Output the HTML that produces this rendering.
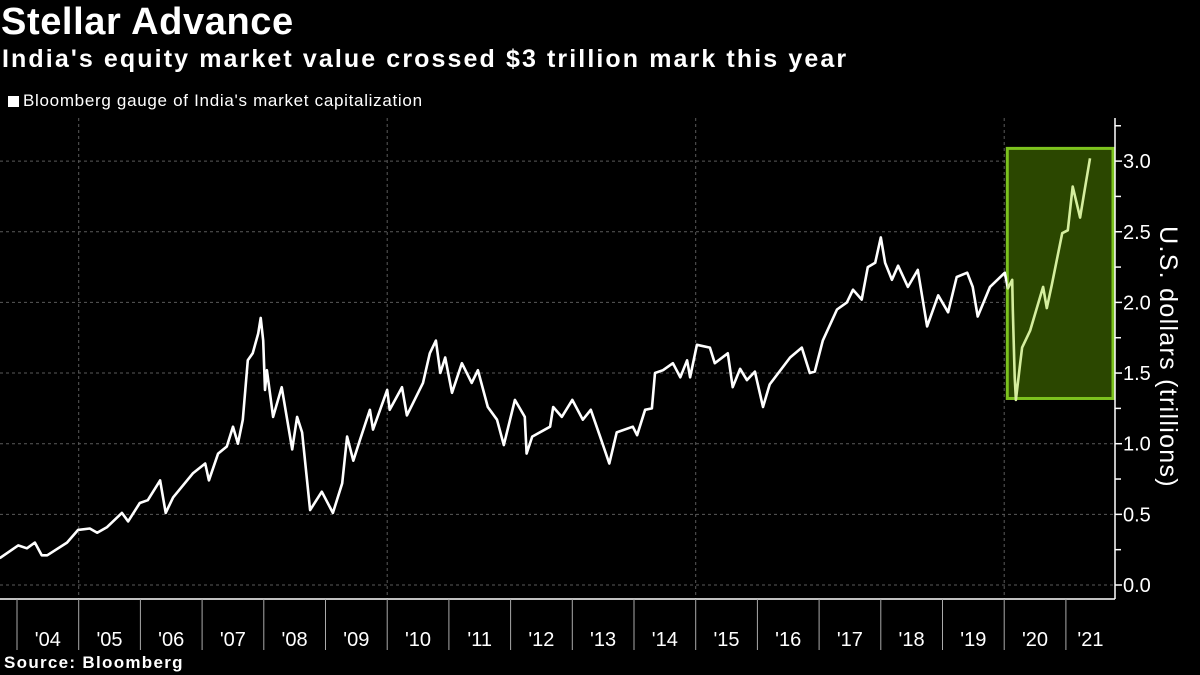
<!DOCTYPE html>
<html><head><meta charset="utf-8">
<style>
html,body{margin:0;padding:0;background:#000;width:1200px;height:675px;overflow:hidden;font-family:"Liberation Sans",sans-serif;color:#fff}
#title{position:absolute;left:1px;top:1px;font-size:38px;font-weight:bold;margin:0;letter-spacing:0.6px}
#subtitle{position:absolute;left:2px;top:45px;font-size:25px;font-weight:bold;margin:0;letter-spacing:2.1px}
#legend{position:absolute;left:8px;top:91px;font-size:17px;display:flex;align-items:center;letter-spacing:0.7px}
#legend .sw{width:11px;height:11px;background:#fff;margin-right:4px}
#source{position:absolute;left:4px;top:653px;font-size:17px;font-weight:bold;letter-spacing:1.3px}
svg{position:absolute;left:0;top:0}
</style></head><body>
<h1 id="title">Stellar Advance</h1>
<h2 id="subtitle">India's equity market value crossed $3 trillion mark this year</h2>
<div id="legend"><span class="sw"></span><span>Bloomberg gauge of India's market capitalization</span></div>
<div id="source">Source: Bloomberg</div>
<svg id="chart" width="1200" height="675"></svg>
<script>
const dates=[2003.72,2004.02,2004.16,2004.29,2004.40,2004.49,2004.81,2004.99,2005.18,2005.30,2005.46,2005.70,2005.80,2005.99,2006.12,2006.32,2006.41,2006.53,2006.85,2007.05,2007.11,2007.26,2007.40,2007.50,2007.58,2007.66,2007.74,2007.82,2007.91,2007.95,2007.99,2008.02,2008.05,2008.15,2008.29,2008.46,2008.54,2008.62,2008.75,2008.94,2009.12,2009.27,2009.35,2009.45,2009.56,2009.72,2009.77,2010.00,2010.04,2010.24,2010.32,2010.58,2010.69,2010.79,2010.86,2010.94,2011.05,2011.21,2011.37,2011.47,2011.63,2011.78,2011.89,2012.07,2012.23,2012.26,2012.35,2012.64,2012.69,2012.83,2013.00,2013.17,2013.30,2013.45,2013.60,2013.72,2013.98,2014.05,2014.18,2014.29,2014.34,2014.47,2014.63,2014.75,2014.86,2014.91,2015.02,2015.23,2015.31,2015.52,2015.60,2015.72,2015.83,2015.96,2016.09,2016.20,2016.53,2016.72,2016.85,2016.93,2017.06,2017.29,2017.45,2017.55,2017.69,2017.79,2017.91,2018.00,2018.07,2018.18,2018.28,2018.44,2018.60,2018.75,2018.93,2019.09,2019.23,2019.40,2019.49,2019.57,2019.77,2020.01,2020.06,2020.13,2020.14,2020.17,2020.19,2020.26,2020.29,2020.42,2020.63,2020.69,2020.77,2020.94,2021.03,2021.11,2021.23,2021.31,2021.39];
const values=[0.19,0.28,0.26,0.30,0.21,0.21,0.30,0.39,0.40,0.37,0.41,0.51,0.45,0.58,0.60,0.74,0.51,0.62,0.79,0.86,0.74,0.93,0.98,1.12,1.00,1.17,1.59,1.64,1.78,1.89,1.73,1.38,1.52,1.19,1.40,0.96,1.19,1.08,0.53,0.66,0.51,0.72,1.05,0.88,1.03,1.24,1.10,1.38,1.24,1.40,1.20,1.43,1.64,1.73,1.50,1.61,1.36,1.57,1.43,1.52,1.26,1.17,0.99,1.31,1.19,0.93,1.05,1.12,1.26,1.19,1.31,1.17,1.24,1.05,0.86,1.08,1.12,1.06,1.24,1.25,1.50,1.52,1.57,1.47,1.59,1.47,1.70,1.68,1.57,1.64,1.40,1.53,1.45,1.51,1.26,1.42,1.61,1.68,1.50,1.51,1.73,1.95,2.00,2.09,2.02,2.25,2.28,2.46,2.28,2.16,2.26,2.11,2.23,1.83,2.05,1.93,2.18,2.21,2.11,1.90,2.11,2.21,2.10,2.16,1.95,1.47,1.31,1.57,1.68,1.80,2.11,1.96,2.12,2.49,2.51,2.82,2.60,2.81,3.02];
const yTicks=[0,0.5,1,1.5,2,2.5,3];
const yTickLabels=["0.0","0.5","1.0","1.5","2.0","2.5","3.0"];
const years=[2004,2005,2006,2007,2008,2009,2010,2011,2012,2013,2014,2015,2016,2017,2018,2019,2020,2021];
const yearLabels=["'04","'05","'06","'07","'08","'09","'10","'11","'12","'13","'14","'15","'16","'17","'18","'19","'20","'21"];
const gridYears=[2005,2010,2015,2020];
const highlight=[2020.05,3.09,1.32];

const NS="http://www.w3.org/2000/svg";
const svg=document.getElementById('chart');
const X=t=>17+(t-2004)*61.7;
const Y=v=>585-v*141.3;
const AX=1115, TOP=118, BOT=599;
function mk(tag,attrs,parent){const e=document.createElementNS(NS,tag);for(const k in attrs)e.setAttribute(k,attrs[k]);(parent||svg).appendChild(e);return e;}

yTicks.forEach((v,i)=>{
  const g=mk('line',{x1:0,x2:AX,y1:Y(v),y2:Y(v),stroke:'#5a5a5a','stroke-width':1,'stroke-dasharray':'3,3'});
  
  
  const t=mk('text',{x:1123,y:Y(v)+7,fill:'#fff','font-size':20,'font-family':'Liberation Sans, sans-serif'});
  t.textContent=yTickLabels[i];
  
  
  mk('line',{x1:AX,x2:AX+7,y1:Y(v),y2:Y(v),stroke:'#fff','stroke-width':1.5});
});
for(let v=0.25;v<3.3;v+=0.5){mk('line',{x1:AX,x2:AX+6,y1:Y(v),y2:Y(v),stroke:'#fff','stroke-width':1.5});}
gridYears.forEach(yr=>{
  const g=mk('line',{x1:X(yr),x2:X(yr),y1:TOP,y2:BOT,stroke:'#5a5a5a','stroke-width':1,'stroke-dasharray':'3,3'});
  
  
});
const hb=mk('rect',{x:X(highlight[0]),y:Y(highlight[1]),width:AX-2-X(highlight[0]),height:Y(highlight[2])-Y(highlight[1]),fill:'#2b4700',stroke:'#7cc21e','stroke-width':3});


const defs=mk('defs',{});
const cp=mk('clipPath',{id:'hl'},defs);
mk('rect',{x:X(highlight[0]),y:0,width:300,height:675},cp);
const cp2=mk('clipPath',{id:'pre'},defs);
mk('rect',{x:0,y:0,width:X(highlight[0]),height:675},cp2);
let d='';dates.forEach((t,i)=>{d+=(i?'L':'M')+X(t).toFixed(1)+','+Y(values[i]).toFixed(1);});
const l1=mk('path',{d:d,fill:'none',stroke:'#fff','stroke-width':2.6,'stroke-linejoin':'round','clip-path':'url(#pre)'});


const l2=mk('path',{d:d,fill:'none',stroke:'#d5ee9e','stroke-width':2.6,'stroke-linejoin':'round','clip-path':'url(#hl)'});


const ya=mk('line',{x1:AX,x2:AX,y1:TOP,y2:BOT,stroke:'#fff','stroke-width':1.5});


const xa=mk('line',{x1:0,x2:AX,y1:BOT,y2:BOT,stroke:'#fff','stroke-width':1.5});


years.forEach((yr,i)=>{
  mk('line',{x1:X(yr),x2:X(yr),y1:BOT,y2:650,stroke:'#aaa','stroke-width':1});
  const cx=Math.min(X(yr)+30.8,(X(yr)+AX)/2);
  const t=mk('text',{x:cx,y:646,fill:'#fff','font-size':20,'text-anchor':'middle','font-family':'Liberation Sans, sans-serif'});
  t.textContent=yearLabels[i];
  
  
});
const at=mk('text',{x:0,y:0,fill:'#fff','font-size':25,'letter-spacing':'1.3','text-anchor':'middle','font-family':'Liberation Sans, sans-serif',transform:'translate(1160,357) rotate(90)'});
at.textContent='U.S. dollars (trillions)';


</script>
</body></html>
